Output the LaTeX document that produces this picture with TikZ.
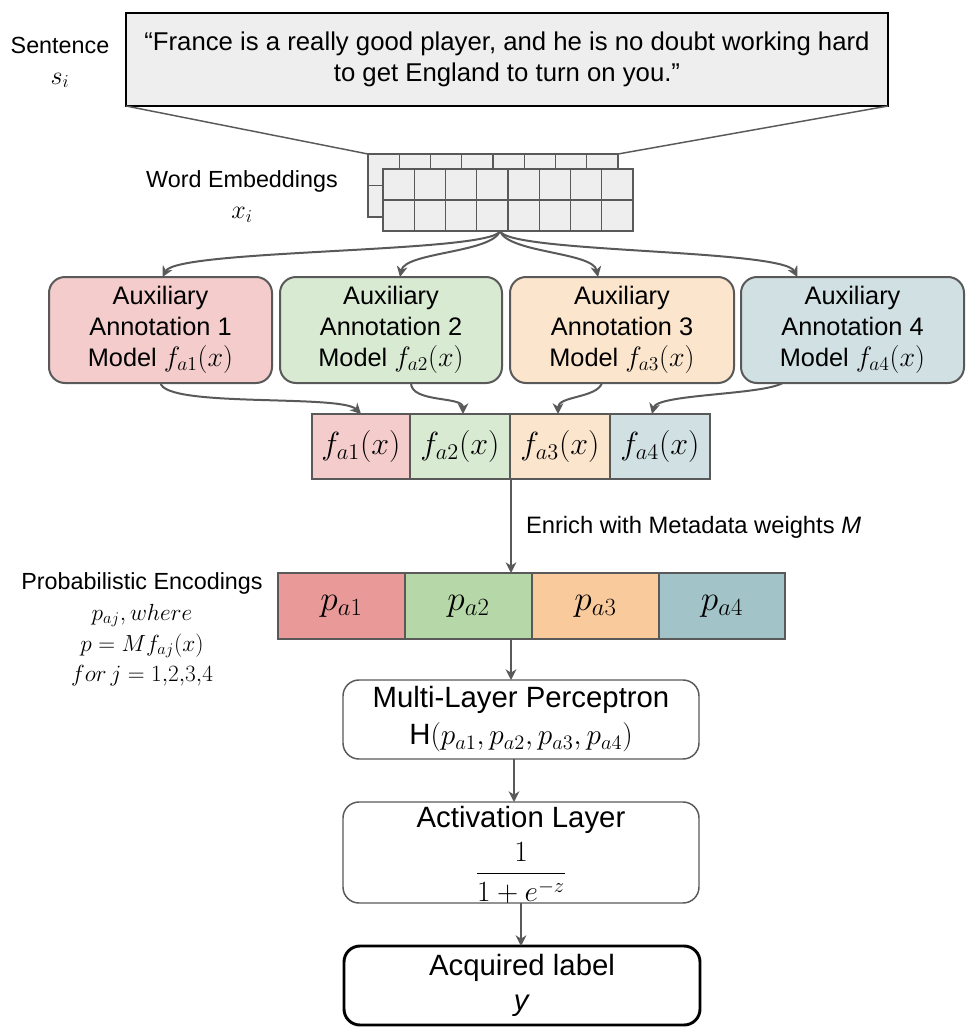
\RequirePackage{fix-cm}
\documentclass[tikz,border=0pt]{standalone}
\usepackage[no-math]{fontspec}
\setmainfont{Liberation Sans}
\usetikzlibrary{arrows.meta,calc}
\definecolor{edgegray}{HTML}{595959}
\definecolor{lgray}{HTML}{EEEEEE}
\definecolor{pinkL}{HTML}{F4CCCC}
\definecolor{greenL}{HTML}{D9EAD3}
\definecolor{orangeL}{HTML}{FCE5CD}
\definecolor{blueL}{HTML}{D0E0E3}
\definecolor{pinkD}{HTML}{EA9999}
\definecolor{greenD}{HTML}{B6D7A8}
\definecolor{orangeD}{HTML}{F9CB9C}
\definecolor{blueD}{HTML}{A2C4C9}
\newcommand{\fsent}{\fontsize{19.3}{23.25}\selectfont}
\newcommand{\flbl}{\fontsize{17.5}{23}\selectfont}
\newcommand{\faux}{\fontsize{19}{23.25}\selectfont}
\newcommand{\fbig}{\fontsize{22}{27.75}\selectfont}
\newcommand{\fenr}{\fontsize{17.8}{21}\selectfont}
\newcommand{\fcell}{\fontsize{24}{26}\selectfont}
\newcommand{\fpcell}{\fontsize{26.5}{28}\selectfont}
\newcommand{\bm}[1]{{\fontsize{21}{23}\selectfont$#1$}}
\newcommand{\lm}[1]{{\fontsize{19.5}{23}\selectfont$#1$}}
\begin{document}
\begin{tikzpicture}[x=0.75pt,y=-0.75pt,
  every node/.style={inner sep=0pt,outer sep=0pt},
  arr/.style={draw=edgegray,line width=1.5pt,-{Stealth[length=8pt,width=8pt,inset=2.5pt]}},
  conn/.style={draw=edgegray,line width=1.1pt},
  gridbox/.style={draw=edgegray,line width=1.1pt,fill=lgray,minimum width=187.5pt},
  auxbox/.style={draw=edgegray,line width=1.5pt,rounded corners=12pt,minimum height=79.5pt,align=center,font=\faux},
  fbox/.style={draw=edgegray,line width=1.5pt,minimum height=48.75pt,font=\fcell},
  pbox/.style={draw=edgegray,line width=1.5pt,minimum height=49.5pt,font=\fpcell},
  flowbox/.style={draw=edgegray,line width=1.1pt,rounded corners=12pt,minimum width=267pt,fill=white},
  lbl/.style={align=center,font=\flbl}
]
\useasboundingbox (0,0) rectangle (978,1028);

% sentence
\node[draw=black,line width=1.5pt,fill=lgray,minimum width=571.5pt,minimum height=69.75pt,align=center,font=\fsent] (sent) at (507,59.5)
  {“France is a really good player, and he is no doubt working hard\\to get England to turn on you.”};
\node[lbl] (senlbl) at (60,62.5) {Sentence\\\lm{s_i}};

% embeddings grid
\node[gridbox,minimum height=47.25pt] (embback) at (493,185.5) {};
\foreach \i in {1,...,7}
  \draw[conn] ($(embback.north west)+(\i*31.25,0)$) -- ($(embback.south west)+(\i*31.25,0)$);
\draw[conn] (embback.west) -- (embback.east);
\node[gridbox,minimum height=46.5pt] (emb) at (508,200) {};
\foreach \i in {1,...,7}
  \draw[conn] ($(emb.north west)+(\i*31.25,0)$) -- ($(emb.south west)+(\i*31.25,0)$);
\draw[conn] (emb.west) -- (emb.east);
\draw[conn] (sent.south west) -- (embback.north west);
\draw[conn] (sent.south east) -- (embback.north east);
\node[lbl] (emblbl) at (242,196.5) {Word Embeddings\\\lm{x_i}};
\coordinate (embo) at ($(emb.south)+(-8,0)$);

% auxiliary models
\node[auxbox,fill=pinkL,minimum width=167.25pt] (aux1) at (160.5,330) {Auxiliary\\Annotation 1\\Model \bm{f_{a1}(x)}};
\node[auxbox,fill=greenL,minimum width=166.5pt] (aux2) at (391,330) {Auxiliary\\Annotation 2\\Model \bm{f_{a2}(x)}};
\node[auxbox,fill=orangeL,minimum width=168pt] (aux3) at (622,330) {Auxiliary\\Annotation 3\\Model \bm{f_{a3}(x)}};
\node[auxbox,fill=blueL,minimum width=167.25pt] (aux4) at (852.5,330) {Auxiliary\\Annotation 4\\Model \bm{f_{a4}(x)}};

\draw[arr] (embo) .. controls +(-8,22) and +(15,-28) .. ($(aux1.north)+(2,0)$);
\draw[arr] (embo) .. controls +(-8,22) and +(5,-25) .. ($(aux2.north)+(9,0)$);
\draw[arr] (embo) .. controls +(8,22) and +(-5,-25) .. ($(aux3.north)+(-24,0)$);
\draw[arr] (embo) .. controls +(8,22) and +(-15,-28) .. ($(aux4.north)+(-55,0)$);

% f cells
\node[fbox,fill=pinkL,minimum width=73.5pt] (f1) at (361,446.5) {$f_{a1}(x)$};
\node[fbox,fill=greenL,minimum width=75pt] (f2) at (460,446.5) {$f_{a2}(x)$};
\node[fbox,fill=orangeL,minimum width=75pt] (f3) at (560,446.5) {$f_{a3}(x)$};
\node[fbox,fill=blueL,minimum width=75pt] (f4) at (660,446.5) {$f_{a4}(x)$};

\draw[arr] (aux1.south) .. controls +(5,25) and +(-20,-20) .. (f1.north);
\draw[arr] ($(aux2.south)+(20,0)$) .. controls +(0,20) and +(0,-18) .. ($(f2.north)+(3,0)$);
\draw[arr] ($(aux3.south)+(-20,0)$) .. controls +(-5,15) and +(0,-18) .. ($(f3.north)+(-2,0)$);
\draw[arr] ($(aux4.south)+(-70,0)$) .. controls +(-20,12) and +(5,-20) .. ($(f4.north)+(-8,0)$);

% p cells
\node[pbox,fill=pinkD,minimum width=95.25pt] (p1) at (341.5,606) {$p_{a1}$};
\node[pbox,fill=greenD,minimum width=95.25pt] (p2) at (468.5,606) {$p_{a2}$};
\node[pbox,fill=orangeD,minimum width=95.25pt] (p3) at (595.5,606) {$p_{a3}$};
\node[pbox,fill=blueD,minimum width=94.5pt] (p4) at (722,606) {$p_{a4}$};
\node[lbl] (problbl) at (142,629.5) {Probabilistic Encodings\\$p_{aj},where$\\$p = Mf_{aj}(x)$\\$for\,j = 1{,}2{,}3{,}4$};

\coordinate (vx) at (511,0);
\draw[arr] (f2.south -| vx) -- (p2.north -| vx);
\node[anchor=west,font=\fenr] (enrich) at (526,527) {Enrich with Metadata weights \textit{M}};

% MLP, activation, output
\node[flowbox,minimum height=59.25pt,align=center,font=\fbig] (mlp) at (521,719.5) {Multi-Layer Perceptron\\H$(p_{a1},p_{a2},p_{a3},p_{a4})$};
\node[flowbox,minimum height=75.75pt] (act) at (521,852.5) {};
\node[font=\fbig,anchor=base] (acttitle) at (521,827) {Activation Layer};
\node[font=\fbig,anchor=base] (actfrac) at (521,881) {$\displaystyle\frac{1}{1+e^{-z}}$};
\node[draw=black,line width=2.2pt,rounded corners=12pt,minimum width=267pt,minimum height=59.25pt,align=center,font=\fbig] (acq) at (522,985.5) {Acquired label\\[-1pt]\textit{y}};

\draw[arr] (p2.south -| vx) -- (mlp.north -| vx);
\draw[arr] ($(mlp.south)+(-7,0)$) -- ($(act.north)+(-7,0)$);
\draw[arr] (act.south) -- (act.south |- acq.north);
\end{tikzpicture}
\end{document}
